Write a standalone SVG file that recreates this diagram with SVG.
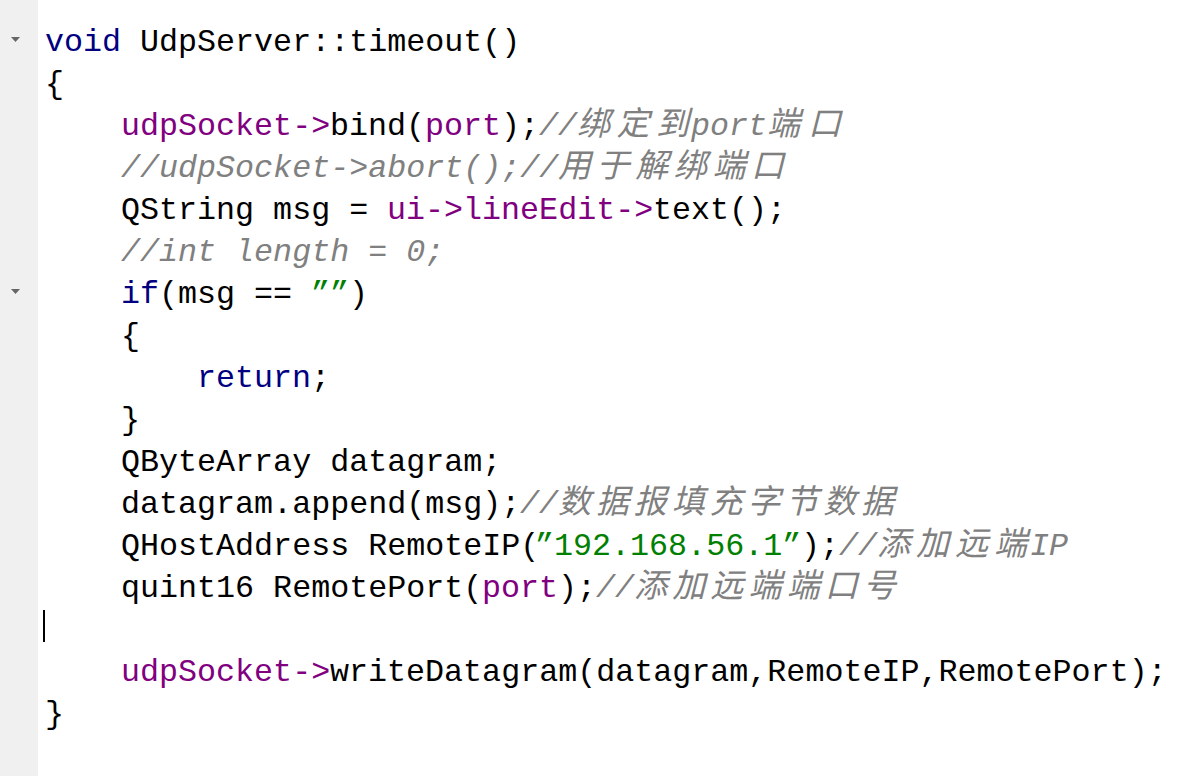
<svg xmlns="http://www.w3.org/2000/svg" width="1198" height="776" viewBox="0 0 1198 776">
<style>
text{font-family:"Liberation Mono",monospace;font-size:31.7px;fill:#000;white-space:pre}
.k{fill:#000080}.p{fill:#800080}.c{fill:#808080;font-style:italic}.s{fill:#008000}
.z{font-family:"Noto Sans CJK SC",sans-serif;font-size:33px}
</style>
<rect width="1198" height="776" fill="#fff"/>
<rect width="38" height="776" fill="#f0f0f0"/>
<g id="folds" fill="#666"><path d="M11 37h9l-4.5 5z"/><path d="M11 289h9l-4.5 5z"/></g>
<g id="code" xml:space="preserve">
<text y="51"><tspan x="45" class="k">void</tspan><tspan x="121"> UdpServer::timeout()</tspan></text>
<text y="93" x="45">{</text>
<text y="135"><tspan x="121" class="p">udpSocket-&gt;</tspan><tspan x="330">bind(</tspan><tspan x="425" class="p">port</tspan><tspan x="501">);</tspan><tspan x="539" class="c">//</tspan><tspan x="577" class="c z" textLength="112" lengthAdjust="spacing">绑定到</tspan><tspan x="691" class="c">port</tspan><tspan x="767" class="c z" textLength="74" lengthAdjust="spacing">端口</tspan></text>
<text y="177"><tspan x="121" class="c">//udpSocket-&gt;abort();//</tspan><tspan x="558" class="c z" textLength="226" lengthAdjust="spacing">用于解绑端口</tspan></text>
<text y="219"><tspan x="121">QString msg = </tspan><tspan x="387" class="p">ui-&gt;lineEdit-&gt;</tspan><tspan x="653">text();</tspan></text>
<text y="261"><tspan x="121" class="c">//int length = 0;</tspan></text>
<text y="303"><tspan x="121" class="k">if</tspan><tspan x="159">(msg == </tspan><tspan x="311" class="s">””</tspan><tspan x="349">)</tspan></text>
<text y="345" x="121">{</text>
<text y="387"><tspan x="197" class="k">return</tspan><tspan x="311">;</tspan></text>
<text y="429" x="121">}</text>
<text y="471" x="121">QByteArray datagram;</text>
<text y="513"><tspan x="121">datagram.append(msg);</tspan><tspan x="520" class="c">//</tspan><tspan x="558" class="c z" textLength="336" lengthAdjust="spacing">数据报填充字节数据</tspan></text>
<text y="555"><tspan x="121">QHostAddress RemoteIP(</tspan><tspan x="535" class="s">”192.168.56.1”</tspan><tspan x="801">);</tspan><tspan x="839" class="c">//</tspan><tspan x="877" class="c z" textLength="150" lengthAdjust="spacing">添加远端</tspan><tspan x="1030" class="c">IP</tspan></text>
<text y="597"><tspan x="121">quint16 RemotePort(</tspan><tspan x="482" class="p">port</tspan><tspan x="558">);</tspan><tspan x="596" class="c">//</tspan><tspan x="634" class="c z" textLength="262" lengthAdjust="spacing">添加远端端口号</tspan></text>
<text y="681"><tspan x="121" class="p">udpSocket-&gt;</tspan><tspan x="330">writeDatagram(datagram,RemoteIP,RemotePort);</tspan></text>
<text y="723" x="45">}</text>
</g>
<rect id="cursor" x="43" y="610" width="2" height="32" fill="#000"/>
</svg>
